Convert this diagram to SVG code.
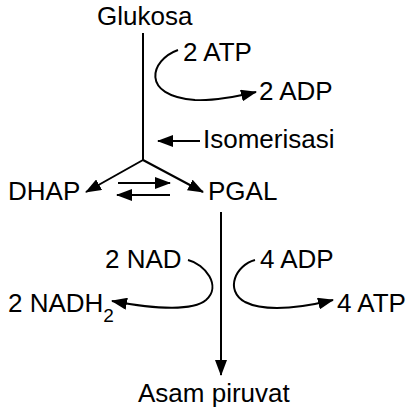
<svg xmlns="http://www.w3.org/2000/svg" width="414" height="412" viewBox="0 0 414 412">
<style>
text{font-family:"Liberation Sans",Arial,sans-serif;font-size:26px;fill:#000}
.l{fill:none;stroke:#000;stroke-width:2}
</style>
<defs>
<marker id="ah" markerWidth="16" markerHeight="12" refX="15" refY="6" orient="auto" markerUnits="userSpaceOnUse">
<path d="M0,0 L16,6 L0,12 Z" fill="#000"/>
</marker>
</defs>
<rect width="414" height="412" fill="#fff"/>
<g id="connectors">
<path class="l" d="M143,33 L143,160"/>
<path class="l" d="M143,160 L86,192" marker-end="url(#ah)"/>
<path class="l" d="M143,160 L203,192" marker-end="url(#ah)"/>
<path class="l" d="M200,141 L158,141" marker-end="url(#ah)"/>
<path class="l" d="M118,183 L170,183" marker-end="url(#ah)"/>
<path class="l" d="M170,195 L117,195" marker-end="url(#ah)"/>
<path class="l" d="M178,50 C150,60 140,96 195,100 C215,101 235,97 256,92" marker-end="url(#ah)"/>
<path class="l" d="M221,212 L221,375" marker-end="url(#ah)"/>
<path class="l" d="M188,260 C205,264 222,286 206,300 C194,310 160,310 112,301" marker-end="url(#ah)"/>
<path class="l" d="M255,260 C236,265 224,290 245,302 C265,312 300,308 333,300" marker-end="url(#ah)"/>
</g>
<g id="glukosa"><text x="97" y="25">Glukosa</text></g>
<g id="atp2"><text x="183" y="61">2 ATP</text></g>
<g id="adp2"><text x="259" y="100">2 ADP</text></g>
<g id="isomerisasi"><text x="203" y="148">Isomerisasi</text></g>
<g id="dhap"><text x="8" y="200">DHAP</text></g>
<g id="pgal"><text x="208" y="200">PGAL</text></g>
<g id="nad2"><text x="105" y="268">2 NAD</text></g>
<g id="nadh2"><text x="8" y="312">2 NADH<tspan font-size="19" dy="10">2</tspan></text></g>
<g id="adp4"><text x="260" y="268">4 ADP</text></g>
<g id="atp4"><text x="337" y="312">4 ATP</text></g>
<g id="asam"><text x="138" y="402">Asam piruvat</text></g>
</svg>
